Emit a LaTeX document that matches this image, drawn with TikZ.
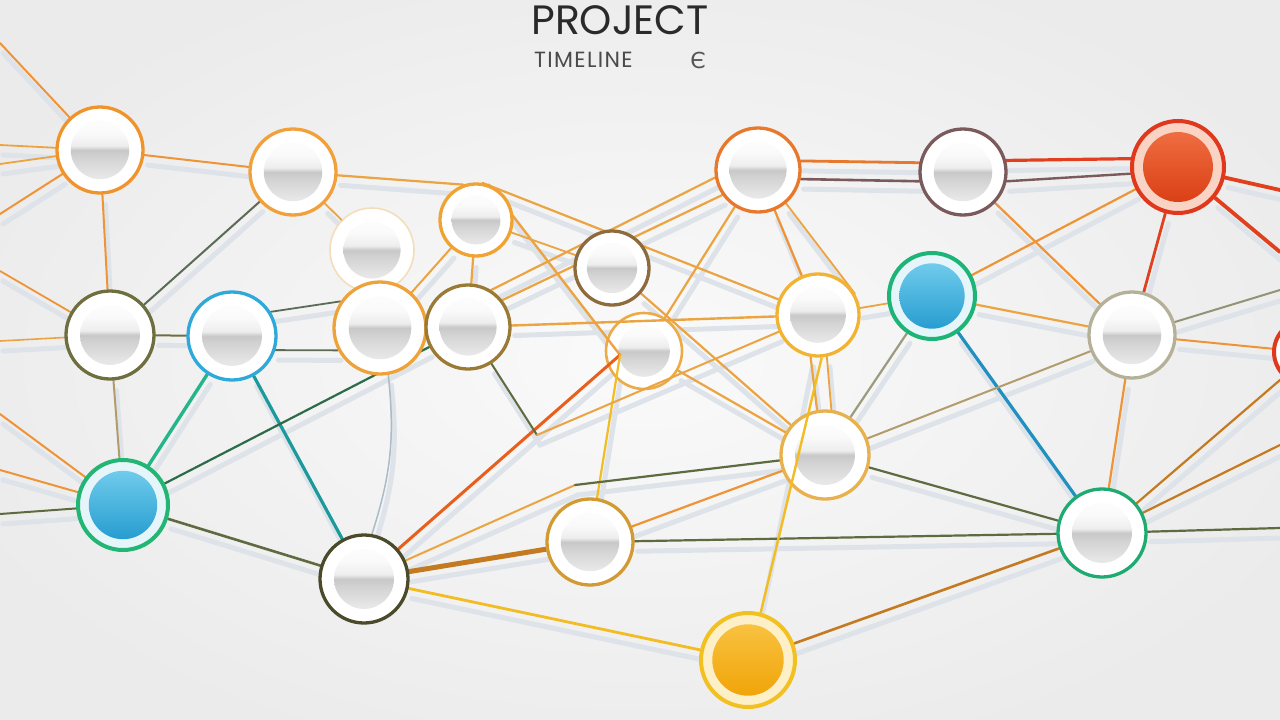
\documentclass[tikz,border=0pt]{standalone}
\usepackage{fontspec}
\usetikzlibrary{fadings}
\newfontfamily\titlefont{Poppins}
\newfontfamily\dvs{DejaVu Sans}
\definecolor{ink}{HTML}{2A2A2A}
\definecolor{bgin}{HTML}{FAFAFA}
\definecolor{bgout}{HTML}{EBEBEB}
\definecolor{shc}{HTML}{DDE3E8}
\definecolor{gEE}{HTML}{F2F2F2}
\definecolor{gE2}{HTML}{E6E6E6}
\definecolor{gCC}{HTML}{D4D4D4}
\definecolor{gC2}{HTML}{C8C8C8}
\definecolor{gE6}{HTML}{EDEDED}
\definecolor{gF6}{HTML}{FAFAFA}
% ring colours
\definecolor{cA}{HTML}{F0932B}
\definecolor{cB}{HTML}{F2A13A}
\definecolor{cC}{HTML}{F0A232}
\definecolor{cD}{HTML}{F5DDBC}
\definecolor{cE}{HTML}{6E6E3E}
\definecolor{cF}{HTML}{2FA9D9}
\definecolor{cG}{HTML}{EDA23A}
\definecolor{cH}{HTML}{9A7A35}
\definecolor{cI}{HTML}{8E6B3C}
\definecolor{cJ}{HTML}{EDAA45}
\definecolor{cK}{HTML}{E8782C}
\definecolor{cL}{HTML}{7A5A5C}
\definecolor{cM}{HTML}{E0381C}
\definecolor{cN}{HTML}{F2B332}
\definecolor{cO}{HTML}{1DB477}
\definecolor{cP}{HTML}{B5B098}
\definecolor{cR}{HTML}{E9B14E}
\definecolor{cS}{HTML}{22B573}
\definecolor{cT}{HTML}{4B4B2B}
\definecolor{cU}{HTML}{D29A32}
\definecolor{cV}{HTML}{F2C021}
\definecolor{cW}{HTML}{1FAA72}
% fills
\definecolor{blT}{HTML}{7CD2F0}
\definecolor{blB}{HTML}{1A96CC}
\definecolor{blH}{HTML}{E6F5FA}
\definecolor{rdT}{HTML}{F27448}
\definecolor{rdB}{HTML}{D8380E}
\definecolor{rdH}{HTML}{F9D3C4}
\definecolor{orT}{HTML}{F9C648}
\definecolor{orB}{HTML}{F0A000}
\definecolor{orH}{HTML}{FDF0C8}
% line colours
\definecolor{lo}{HTML}{EF9436}
\definecolor{lo2}{HTML}{EBA441}
\definecolor{ly}{HTML}{F2BC22}
\definecolor{lr}{HTML}{E85E1C}
\definecolor{lred}{HTML}{E0401E}
\definecolor{lol}{HTML}{5E6B40}
\definecolor{ldg}{HTML}{2E6B4A}
\definecolor{lgr}{HTML}{5C6B58}
\definecolor{ltan}{HTML}{B39C6C}
\definecolor{lteal}{HTML}{1A9A9A}
\definecolor{lgrn}{HTML}{25B58A}
\definecolor{lblu}{HTML}{2090C0}
\definecolor{lbr}{HTML}{C47A20}
\definecolor{lmv}{HTML}{7A5A5C}
\definecolor{lbg}{HTML}{A9BCC8}
\pgfdeclarelayer{bgl}
\pgfdeclarelayer{shad}
\pgfdeclarelayer{mid}
\pgfdeclarelayer{lines}
\pgfsetlayers{bgl,shad,mid,lines,main}
\pgfdeclareverticalshading{btngray}{100bp}{color(0bp)=(gEE); color(25bp)=(gEE); color(35bp)=(gE2); color(45bp)=(gCC); color(50bp)=(gC2); color(52.5bp)=(gE6); color(60bp)=(gF6); color(75bp)=(white); color(100bp)=(white)}
\newcommand\lk[2]{%
  \begin{pgfonlayer}{shad}\draw[shd] #2;\end{pgfonlayer}%
  \begin{pgfonlayer}{lines}\draw[line cap=round,#1] #2;\end{pgfonlayer}}
\tikzset{
  shd/.style={draw=shc, line width=5pt, line cap=round, transform canvas={shift={(3pt,-10pt)}}},
  nd/.style 2 args={circle, draw=#1, line width=3.3pt, fill=white, inner sep=0pt, minimum size=#2*2pt,
    path picture={\fill[shading=btngray, path fading=circle with fuzzy edge 20 percent]
      (path picture bounding box.center) circle[radius=#2*0.68pt];}},
  ndf/.style n args={5}{circle, draw=#1, line width=4pt, fill=#3, inner sep=0pt, minimum size=#2*2pt,
    path picture={\shade[top color=#4, bottom color=#5]
      (path picture bounding box.center) circle[radius=#2*0.76pt];}},
}
\begin{document}
\begin{tikzpicture}[x=1pt,y=-1pt]
\useasboundingbox (0,0) rectangle (1280,720);
\begin{pgfonlayer}{bgl}
\shade[inner color=bgin, outer color=bgout] (-100,-60) rectangle (1380,780);
\end{pgfonlayer}
% title
\node[font=\titlefont\fontsize{41}{43}\selectfont, text=ink, inner sep=0pt] (t1) at (620,20) {PROJECT};
\node[font=\titlefont\fontsize{22}{24}\selectfont\addfontfeature{LetterSpace=6}, text=ink!85, inner sep=0pt, anchor=west] (t2) at (534,60) {TIMELINE};
\node[font=\dvs\fontsize{22}{24}\selectfont, text=ink!80, inner sep=0pt] (t3) at (698,60) {Є};
% nodes
\node[nd={cA}{43}] (A) at (100,150) {};
\node[nd={cB}{43}] (B) at (293,172) {};
\node[nd={cC}{36}] (C) at (476,220) {};
\begin{pgfonlayer}{mid}
\node[nd={cD}{42}, line width=1.6pt] (D) at (372,250) {};
\node[nd={cJ}{38}, line width=2.6pt] (J) at (644,351) {};
\end{pgfonlayer}
\node[nd={cE}{44}] (E) at (110,335) {};
\node[nd={cF}{44}] (F) at (232,336) {};
\node[nd={cG}{46}] (G) at (380,328) {};
\node[nd={cH}{42}] (H) at (468,327) {};
\node[nd={cI}{37}] (I) at (612,268) {};
\node[nd={cK}{42}] (K) at (758,170) {};
\node[nd={cL}{43}] (L) at (963,172) {};
\node[ndf={cM}{46}{rdH}{rdT}{rdB}] (M) at (1178,167) {};
\node[nd={cN}{41}] (N) at (818,315) {};
\node[ndf={cO}{43}{blH}{blT}{blB}] (O) at (932,296) {};
\node[nd={cP}{43}] (P) at (1132,335) {};
\node[nd={cM}{32}, line width=4pt] (Q) at (1306,352) {};
\node[nd={cR}{44}] (R) at (825,455) {};
\node[ndf={cS}{45}{blH}{blT}{blB}] (S) at (123,505) {};
\node[nd={cT}{44}] (T) at (364,579) {};
\node[nd={cU}{43}] (U) at (590,542) {};
\node[ndf={cV}{47}{orH}{orT}{orB}] (V) at (748,660) {};
\node[nd={cW}{44}] (W) at (1102,533) {};
% free ends
\coordinate (l1) at (0,43);  \coordinate (l2) at (0,145); \coordinate (l3) at (0,164);
\coordinate (l4) at (0,214); \coordinate (l5) at (0,271); \coordinate (l6) at (0,341);
\coordinate (l7) at (0,414); \coordinate (l8) at (0,470); \coordinate (l9) at (0,514);
\coordinate (jx) at (620,355); \coordinate (k1) at (537,435); \coordinate (b1) at (575,485);
\coordinate (r1) at (1280,190); \coordinate (r2) at (1280,252); \coordinate (r3) at (1280,528);
\coordinate (r4) at (1280,380); \coordinate (r5) at (1280,445); \coordinate (r6) at (1280,290);
% edges
\lk{lo, line width=2pt}{(l1)--(A)}
\lk{lo2, line width=1.8pt}{(l2)--(A)}
\lk{lo2, line width=1.8pt}{(l3)--(A)}
\lk{lo, line width=2pt}{(l4)--(A)}
\lk{lo, line width=1.8pt}{(l5)--(E)}
\lk{lo2, line width=1.6pt}{(l6)--(E)}
\lk{lo, line width=2pt}{(l7)--(S)}
\lk{lo, line width=2pt}{(l8)--(S)}
\lk{lol, line width=2pt}{(l9)--(S)}
\lk{lo, line width=2pt}{(A)--(B)}
\lk{lo, line width=2pt}{(A)--(E)}
\lk{lgr, line width=2pt}{(B)--(E)}
\lk{cE, line width=2pt}{(E)--(F)}
\lk{ltan, line width=2pt}{(E)--(S)}
\lk{lgrn, line width=3.4pt}{(F)--(S)}
\lk{lteal, line width=3.2pt}{(F)--(T)}
\lk{lgr, line width=1.8pt}{(F.32)--(G.146)}
\lk{lgr, line width=1.8pt}{(F.-18)--(G.-152)}
\lk{ldg, line width=2.2pt}{(S)--(H)}
\lk{lol, line width=2.6pt}{(S)--(T)}
\lk{lo2, line width=2.2pt}{(B)--(C.110)}
\lk{lo2, line width=1.8pt}{(B)--(D)}
\lk{lo2, line width=2.2pt}{(C)--(H)}
\lk{lo2, line width=2pt}{(C)--(G)}
\lk{lo2, line width=2.2pt}{(C.80)--(N)}
\lk{lo2, line width=2.4pt}{(C.70)--(jx)}
\lk{lo2, line width=1.8pt}{(C)--(I)}
\lk{lo2, line width=2.2pt}{(H.58)--(K.190)}
\lk{lo2, line width=2.2pt}{(H.38)--(K.215)}
\lk{lo2, line width=2.4pt}{(H)--(N)}
\lk{lo2, line width=2.2pt}{(I)--(R)}
\lk{lr, line width=3pt}{(jx)--(T)}
\lk{ly, line width=2.2pt}{(jx)--(U)}
\lk{lol, line width=2pt}{(H)--(k1)}
\lk{lo2, line width=2pt}{(k1)--(N)}
\lk{lo2, line width=2.2pt}{(J)--(R)}
\lk{lo2, line width=2.2pt}{(J)--(K)}
\lk{lbg, line width=1.5pt}{(T.80) to[bend right=12] (G.-80)}
\lk{lo2, line width=2pt}{(T)--(b1)}
\lk{lol, line width=2.2pt}{(b1)--(R)}
\lk{lbr, line width=5pt}{(T)--(U)}
\lk{ly, line width=2.8pt}{(T)--(V)}
\lk{lo, line width=2.2pt}{(U)--(R)}
\lk{lol, line width=2.2pt}{(U)--(W)}
\lk{lbr, line width=2.6pt}{(V)--(W)}
\lk{lo2, line width=2.2pt}{(N.-100)--(R.100)}
\lk{lo2, line width=1.8pt}{(N.-78)--(R.82)}
\lk{lo, line width=2.2pt}{(K)--(N)}
\lk{lo2, line width=1.8pt}{(K.-50)--(N.30)}
\lk{lo2, line width=1.8pt}{(N)--(O)}
\lk{cK, line width=2.8pt}{(K.12)--(L.168)}
\lk{lmv, line width=2.6pt}{(K.-12)--(L.-168)}
\lk{lred, line width=3.2pt}{(L.15)--(M.170)}
\lk{lmv, line width=2.4pt}{(L.-12)--(M.-172)}
\lk{lo, line width=2.2pt}{(L)--(P)}
\lk{lo, line width=2.2pt}{(M)--(O)}
\lk{lred, line width=2.8pt}{(M)--(P)}
\lk{lred, line width=3.8pt}{(M)--(r1)}
\lk{lred, line width=3.8pt}{(M)--(r2)}
\lk{lo2, line width=2.2pt}{(O)--(P)}
\lk{cP!70!lol, line width=2.2pt}{(O)--(R)}
\lk{lblu, line width=3.2pt}{(O)--(W)}
\lk{ltan, line width=2pt}{(P)--(R)}
\lk{lol, line width=2.2pt}{(R)--(W)}
\lk{lo, line width=2.2pt}{(P)--(W)}
\lk{lol, line width=2.2pt}{(W)--(r3)}
\lk{lbr, line width=2.2pt}{(W)--(r4)}
\lk{lbr, line width=2.2pt}{(W)--(r5)}
\lk{cP!60!lol, line width=2pt}{(P)--(r6)}
\lk{lo, line width=2pt}{(P)--(Q)}
% yellow line crossing over R
\begin{pgfonlayer}{shad}\draw[shd] (V)--(N);\end{pgfonlayer}
\draw[ly, line width=2.4pt] (V.75)--(N.-85);
\end{tikzpicture}
\end{document}
